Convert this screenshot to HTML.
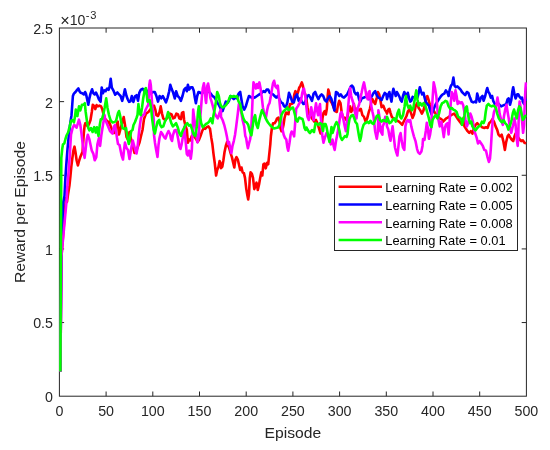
<!DOCTYPE html>
<html><head><meta charset="utf-8"><title>Reward per Episode</title>
<style>
html,body{margin:0;padding:0;background:#fff;}
svg{display:block;}
text{font-family:"Liberation Sans",Arial,sans-serif;fill:#262626;}
.tk{font-size:14.1px;}
.lb{font-size:15.5px;}
.lg{font-size:12.7px;fill:#000;}
</style></head><body>
<svg width="550" height="450" viewBox="0 0 550 450">
<rect x="0" y="0" width="550" height="450" fill="#fff"/>

<g stroke="#262626" stroke-width="1" fill="none">
<rect x="59.4" y="28" width="467" height="368.2"/>
<path d="M106.1 396.2 V391.5 M106.1 28 V32.7"/>
<path d="M152.8 396.2 V391.5 M152.8 28 V32.7"/>
<path d="M199.5 396.2 V391.5 M199.5 28 V32.7"/>
<path d="M246.2 396.2 V391.5 M246.2 28 V32.7"/>
<path d="M292.9 396.2 V391.5 M292.9 28 V32.7"/>
<path d="M339.6 396.2 V391.5 M339.6 28 V32.7"/>
<path d="M386.3 396.2 V391.5 M386.3 28 V32.7"/>
<path d="M433 396.2 V391.5 M433 28 V32.7"/>
<path d="M479.7 396.2 V391.5 M479.7 28 V32.7"/>
<path d="M59.4 322.56 H64.1 M526.4 322.56 H521.7"/>
<path d="M59.4 248.92 H64.1 M526.4 248.92 H521.7"/>
<path d="M59.4 175.28 H64.1 M526.4 175.28 H521.7"/>
<path d="M59.4 101.64 H64.1 M526.4 101.64 H521.7"/>
</g>
<g fill="none" stroke-width="2.6" stroke-linejoin="round" stroke-linecap="butt" clip-path="url(#cp)">
<clipPath id="cp"><rect x="58.4" y="27" width="469" height="370.2"/></clipPath>
<path d="M60.4 371.5 L61.4 257.0 L66.0 198.0 L67.0 201.9 L68.1 193.9 L69.4 185.9 L70.4 176.3 L71.3 166.7 L72.3 158.7 L73.4 150.7 L74.5 146.7 L75.5 152.3 L76.6 160.3 L77.9 165.4 L79.0 161.1 L80.3 157.1 L81.6 153.9 L82.5 152.0 L83.2 142.4 L83.8 133.6 L84.6 125.6 L85.4 123.2 L86.5 124.8 L87.8 126.4 L89.4 123.2 L90.5 120.0 L91.8 112.0 L92.8 104.8 L94.2 105.9 L95.3 109.1 L96.6 105.1 L97.9 106.4 L99.5 105.6 L101.1 106.4 L102.4 109.6 L103.5 114.4 L104.6 118.4 L106.2 120.0 L108.6 123.2 L109.0 121.5 L111.5 128.5 L114.0 133.0 L116.0 127.0 L117.7 121.5 L119.0 134.5 L121.0 127.0 L123.7 117.0 L125.0 125.0 L126.5 137.0 L127.8 139.5 L129.5 132.0 L131.5 141.0 L133.0 147.0 L134.5 153.0 L137.0 149.0 L139.5 142.5 L141.0 136.0 L142.5 130.0 L144.0 119.0 L146.0 113.6 L148.4 112.0 L150.8 108.8 L154.0 105.6 L155.3 109.6 L156.4 115.2 L158.0 116.0 L159.6 112.0 L160.7 106.4 L162.0 113.6 L163.3 118.4 L165.2 120.0 L166.8 118.4 L168.4 116.8 L170.0 113.6 L171.6 114.4 L173.2 118.4 L174.8 117.6 L176.4 113.6 L178.0 114.4 L179.3 118.4 L180.9 119.2 L182.0 112.8 L183.3 112.0 L184.1 120.0 L185.2 124.8 L186.8 129.6 L187.9 142.7 L189.2 139.5 L190.5 140.3 L191.6 136.3 L194.0 136.0 L196.4 139.5 L197.5 141.9 L198.8 140.3 L200.4 136.3 L202.0 131.5 L203.6 128.0 L205.2 128.8 L206.8 127.2 L208.4 126.4 L210.0 128.8 L211.3 137.9 L212.4 144.3 L213.5 153.9 L214.8 163.5 L216.1 175.5 L217.2 169.9 L218.5 166.7 L219.6 161.1 L220.9 164.3 L221.0 168.3 L222.3 166.7 L223.4 160.3 L224.5 152.3 L225.8 145.9 L227.1 141.9 L228.2 145.9 L229.3 148.3 L230.6 153.1 L231.9 157.1 L233.0 161.9 L234.3 167.5 L235.4 159.5 L236.5 157.1 L237.8 159.5 L238.9 164.3 L240.2 169.9 L241.5 167.5 L242.6 172.3 L243.9 173.1 L245.0 177.9 L246.3 189.1 L247.4 195.5 L248.2 199.5 L249.0 193.9 L249.8 177.9 L250.6 172.3 L251.9 173.9 L253.0 177.9 L254.3 189.1 L255.4 185.9 L256.5 182.7 L257.8 189.9 L259.1 184.3 L260.2 177.9 L261.3 172.3 L262.3 175.5 L263.4 164.3 L264.5 163.5 L265.8 168.3 L267.1 162.7 L268.2 164.3 L269.3 153.9 L270.3 144.3 L270.9 136.0 L271.9 128.0 L273.0 123.2 L274.6 123.2 L276.2 120.8 L277.0 118.5 L278.5 117.5 L279.5 121.5 L280.5 128.5 L281.5 131.2 L282.5 129.5 L283.5 125.0 L284.5 118.0 L286.0 112.5 L287.5 113.8 L288.5 114.2 L289.2 108.0 L290.0 104.0 L290.1 104.0 L291.4 104.0 L293.0 103.2 L294.3 94.4 L295.4 91.2 L296.5 95.2 L297.8 92.8 L299.1 88.0 L300.5 85.6 L301.8 82.4 L302.9 85.6 L304.0 92.8 L305.3 94.4 L306.4 99.2 L307.5 107.2 L308.8 113.6 L310.1 115.2 L312.0 118.4 L314.4 121.6 L316.0 120.0 L317.5 123.5 L319.0 128.5 L320.5 133.5 L321.5 128.0 L322.5 118.0 L323.5 113.0 L324.8 111.0 L325.8 114.5 L326.8 109.0 L327.7 96.0 L328.3 89.6 L329.3 92.8 L330.4 100.8 L332.0 103.2 L333.6 107.2 L335.2 111.2 L336.8 112.0 L337.9 105.6 L339.2 100.8 L340.5 103.2 L341.6 112.0 L343.2 118.4 L344.8 117.6 L346.4 120.0 L347.5 116.8 L348.8 108.8 L350.1 106.4 L351.2 112.0 L352.8 108.8 L353.9 104.0 L355.2 112.0 L356.5 113.6 L357.6 108.0 L359.2 110.4 L360.8 108.8 L362.4 115.2 L364.0 116.8 L365.6 121.6 L367.2 118.4 L368.8 112.0 L369.9 108.8 L371.2 102.4 L372.5 99.2 L373.6 101.6 L375.2 104.0 L376.8 97.6 L377.9 92.0 L379.2 94.4 L380.5 100.8 L381.6 107.2 L383.2 105.6 L384.8 109.6 L386.4 112.0 L387.0 113.6 L388.3 109.6 L389.4 108.8 L390.5 112.8 L391.8 116.8 L393.4 118.4 L395.8 120.0 L399.0 121.6 L400.6 123.2 L402.2 124.8 L403.5 122.0 L405.0 119.0 L406.5 116.0 L408.0 111.2 L409.5 109.2 L411.0 113.0 L412.5 118.0 L414.0 114.5 L415.5 106.4 L417.1 103.2 L418.7 108.0 L420.3 110.4 L421.9 113.6 L423.5 110.4 L425.1 104.0 L426.2 97.6 L427.3 96.0 L428.6 100.0 L429.9 104.8 L431.0 108.0 L433.4 110.4 L436.6 115.2 L439.8 118.4 L441.4 119.2 L443.0 121.6 L444.6 120.0 L446.2 118.4 L447.8 117.6 L451.0 115.2 L454.2 113.6 L457.4 118.4 L459.8 121.6 L462.2 124.8 L463.3 118.4 L464.4 126.4 L466.0 128.8 L467.6 131.2 L469.2 132.8 L470.8 131.2 L472.4 133.6 L474.0 128.0 L475.6 124.8 L477.2 123.2 L478.8 124.8 L480.4 125.6 L482.0 127.2 L484.4 128.0 L486.0 127.2 L487.6 128.0 L489.2 123.2 L490.8 121.6 L492.4 119.2 L494.0 121.6 L495.6 126.4 L497.2 129.9 L498.5 134.7 L500.1 136.3 L501.7 134.7 L503.3 141.1 L504.9 149.9 L506.0 142.7 L507.6 136.3 L508.7 134.7 L510.0 137.1 L511.6 139.5 L513.2 141.1 L514.5 136.3 L515.6 133.6 L517.2 136.0 L519.6 139.5 L521.2 141.1 L522.8 140.3 L524.4 142.7 L526.0 143.5" stroke="#ff0000"/>
<path d="M60.4 371.5 L61.4 250.0 L63.3 202.0 L64.5 196.0 L65.4 177.9 L66.5 161.9 L67.5 149.1 L68.6 137.9 L69.7 128.0 L70.5 121.6 L71.5 115.2 L72.3 104.0 L72.9 96.0 L73.9 93.6 L75.5 92.0 L77.1 89.9 L78.4 88.5 L79.5 91.2 L80.6 92.8 L82.2 93.3 L83.8 94.4 L85.1 92.0 L85.9 93.6 L87.0 98.4 L88.3 104.8 L89.4 98.4 L90.5 93.6 L92.1 89.3 L93.4 93.3 L94.7 94.4 L96.0 92.5 L97.6 96.0 L99.0 99.5 L100.6 101.6 L101.7 87.5 L102.8 93.3 L104.3 90.4 L105.6 91.2 L107.2 88.5 L108.6 89.9 L109.7 86.4 L110.7 78.7 L111.8 87.7 L113.6 90.9 L115.2 94.7 L117.4 92.5 L119.0 94.4 L120.6 96.0 L122.2 100.8 L123.5 96.0 L124.9 89.3 L126.5 96.0 L127.8 99.5 L129.1 101.9 L130.5 101.3 L131.8 96.0 L133.4 101.9 L135.0 96.3 L136.6 95.2 L138.0 100.8 L139.3 92.8 L140.9 89.6 L142.8 88.8 L144.4 91.2 L146.0 89.6 L147.6 92.0 L150.0 91.2 L151.6 92.8 L153.2 92.0 L154.8 92.0 L156.4 96.0 L158.0 101.6 L159.6 96.0 L161.2 98.4 L162.8 96.0 L164.4 99.2 L166.0 102.4 L167.6 97.6 L169.2 91.2 L170.3 84.8 L171.6 88.8 L173.2 92.8 L174.8 98.4 L176.1 91.2 L177.7 96.0 L179.3 97.6 L180.9 100.8 L182.5 96.0 L184.1 89.6 L185.7 88.0 L186.8 91.2 L187.9 84.8 L189.2 89.6 L190.8 87.2 L192.4 87.2 L193.7 90.4 L194.8 97.6 L195.9 103.2 L197.2 96.0 L198.5 92.0 L200.4 92.8 L202.0 93.6 L203.6 91.2 L206.0 92.8 L208.4 91.2 L210.8 93.6 L212.4 96.0 L214.0 96.8 L215.6 99.2 L217.2 102.4 L218.8 104.8 L220.4 108.0 L221.0 109.6 L222.6 111.2 L224.2 106.4 L225.8 101.6 L227.4 103.2 L229.0 100.8 L230.6 96.0 L232.2 97.6 L233.8 99.2 L235.4 97.6 L237.0 98.4 L238.6 93.6 L240.2 92.0 L241.5 100.0 L242.6 106.4 L244.2 109.6 L245.8 106.4 L247.4 100.8 L249.0 96.0 L250.6 96.8 L252.2 98.4 L254.6 97.6 L257.0 96.0 L259.4 94.4 L261.8 92.8 L263.4 91.2 L265.0 92.0 L266.6 89.6 L268.2 89.6 L269.8 92.8 L271.4 93.6 L273.0 94.4 L274.6 96.0 L276.2 97.6 L277.8 96.0 L279.4 99.2 L281.0 102.4 L282.6 103.2 L284.2 106.4 L285.8 107.2 L287.4 102.4 L289.0 92.8 L290.6 96.8 L292.2 101.6 L293.8 102.4 L295.4 96.8 L297.0 94.4 L298.6 100.8 L300.2 98.4 L301.8 101.6 L303.4 104.0 L304.0 104.0 L305.6 100.8 L307.2 96.0 L308.8 95.2 L310.4 97.6 L312.0 100.8 L313.6 93.6 L315.2 92.0 L316.8 96.0 L318.4 99.2 L320.0 96.0 L321.6 94.4 L323.2 96.0 L324.8 100.0 L326.4 101.6 L328.0 98.4 L329.6 96.0 L331.2 98.4 L332.8 104.0 L334.4 110.4 L335.2 99.2 L336.0 92.0 L337.6 92.8 L339.2 96.0 L340.8 94.4 L342.4 96.8 L344.0 97.6 L345.6 96.0 L347.2 94.4 L349.1 90.4 L350.9 86.4 L352.0 85.6 L353.3 87.2 L354.4 92.0 L356.0 94.4 L357.6 92.8 L359.2 100.0 L360.3 101.6 L361.6 98.4 L364.0 97.6 L367.2 96.0 L368.8 99.2 L370.4 98.4 L372.0 96.0 L373.6 92.8 L375.2 91.2 L376.8 95.2 L378.4 97.6 L380.0 98.4 L381.6 100.0 L383.2 96.0 L384.8 92.8 L386.4 94.4 L387.0 99.2 L388.3 94.4 L389.4 92.0 L390.5 97.6 L391.5 101.6 L392.6 92.8 L393.4 88.8 L394.7 92.8 L395.8 96.0 L396.9 92.0 L398.2 94.4 L399.5 96.8 L400.6 100.0 L401.7 101.6 L403.0 96.0 L404.3 92.0 L405.4 94.4 L406.5 97.6 L407.8 92.8 L409.1 98.4 L410.2 101.6 L411.3 100.8 L412.6 96.8 L414.2 97.6 L415.8 96.0 L417.4 97.6 L418.7 92.8 L419.8 87.2 L420.9 91.2 L422.2 94.4 L423.5 92.8 L424.6 97.6 L425.7 101.6 L427.3 104.0 L428.9 105.6 L430.2 110.4 L431.5 114.4 L433.1 110.4 L434.7 106.4 L436.3 103.2 L437.9 100.8 L439.5 98.4 L441.1 96.0 L442.7 94.4 L444.3 93.6 L445.9 90.4 L447.5 92.8 L448.6 96.0 L449.7 89.6 L451.0 85.6 L452.3 84.0 L453.4 77.6 L454.5 85.6 L455.8 87.2 L457.4 86.4 L459.0 88.0 L460.6 89.6 L462.0 92.0 L463.6 93.6 L465.2 95.2 L466.8 92.0 L468.4 92.8 L470.0 97.6 L471.6 101.6 L473.2 102.4 L474.8 101.6 L476.1 102.4 L477.2 93.6 L478.3 97.6 L479.6 101.6 L480.9 97.6 L482.5 96.0 L483.6 100.8 L485.2 96.0 L486.3 91.2 L487.3 88.0 L488.4 92.0 L489.5 93.6 L490.8 97.6 L492.1 96.0 L493.2 100.8 L494.8 104.0 L496.4 104.8 L498.0 103.2 L499.6 104.8 L501.2 106.4 L502.8 105.6 L504.4 104.8 L506.0 104.8 L507.6 99.2 L508.7 98.4 L510.0 104.8 L511.3 100.0 L512.4 91.2 L513.2 87.2 L514.5 94.4 L515.6 98.4 L517.2 94.4 L518.3 94.4 L519.6 96.8 L520.9 98.4 L522.0 97.6 L523.1 102.4 L524.1 104.0 L525.2 99.2 L526.0 100.8" stroke="#0000ff"/>
<path d="M60.4 371.5 L61.4 257.0 L67.0 196.0 L67.0 190.7 L68.1 177.9 L69.1 165.1 L69.9 153.9 L70.5 142.7 L71.0 134.7 L72.6 128.0 L74.2 124.8 L76.6 127.7 L79.0 119.7 L80.3 124.8 L81.4 132.8 L82.5 142.4 L83.5 150.4 L84.6 157.9 L85.7 148.8 L86.7 139.2 L87.8 134.7 L89.4 139.5 L91.8 150.7 L93.4 153.9 L94.7 160.3 L96.3 157.1 L97.4 144.3 L99.0 137.9 L100.1 145.9 L101.4 134.7 L103.0 124.8 L104.6 115.2 L105.0 119.0 L107.5 125.0 L110.0 131.0 L112.5 133.5 L114.0 126.5 L115.0 125.0 L116.0 131.0 L117.0 138.0 L118.0 144.0 L119.5 145.0 L120.5 150.0 L121.5 155.0 L123.0 159.5 L124.0 150.0 L125.0 142.5 L126.5 148.0 L128.0 150.0 L129.5 159.0 L130.5 153.0 L131.8 145.0 L132.8 140.5 L134.0 145.0 L135.0 149.0 L136.5 153.5 L137.5 148.0 L138.5 137.0 L139.5 128.0 L140.5 121.0 L141.0 118.0 L142.5 115.0 L144.0 115.0 L145.5 110.0 L147.0 107.0 L148.2 105.0 L148.8 95.0 L149.3 85.0 L150.0 80.5 L150.8 85.0 L151.5 95.0 L152.2 105.0 L153.0 113.0 L153.8 120.0 L154.0 135.0 L155.0 143.0 L156.0 149.0 L157.5 157.0 L158.5 145.0 L159.5 138.0 L161.0 132.0 L162.5 134.0 L164.0 137.0 L165.5 138.5 L167.0 134.0 L168.5 131.0 L170.0 134.0 L171.0 139.0 L172.0 141.0 L173.0 135.0 L174.5 130.5 L176.0 130.0 L177.0 133.0 L178.2 139.0 L179.5 147.0 L180.5 149.0 L181.5 145.0 L182.5 139.0 L183.5 135.0 L184.3 126.5 L185.0 135.0 L186.0 145.0 L186.8 153.9 L187.9 155.5 L189.2 150.7 L190.8 158.7 L191.8 150.7 L192.4 136.0 L193.2 109.6 L194.0 116.8 L195.2 124.8 L196.4 136.0 L197.6 142.4 L198.7 136.0 L199.6 123.2 L200.7 112.0 L201.7 99.2 L202.8 88.0 L203.9 83.2 L204.9 90.0 L205.6 100.0 L206.1 103.0 L206.7 95.0 L207.3 86.0 L208.1 83.5 L209.2 89.6 L210.3 97.6 L211.6 101.6 L212.9 106.4 L214.5 112.8 L216.1 116.0 L217.7 118.4 L219.3 113.6 L220.9 109.6 L221.0 116.8 L222.6 120.0 L224.2 124.8 L225.8 131.2 L227.1 137.6 L228.2 144.0 L229.0 141.9 L230.3 148.3 L231.4 153.1 L232.5 145.9 L233.8 141.1 L235.1 134.4 L236.2 126.4 L237.8 113.6 L238.9 104.0 L240.2 106.4 L241.5 113.6 L242.6 120.0 L244.2 126.4 L245.3 136.0 L246.1 137.9 L247.1 144.3 L247.9 148.3 L249.0 143.5 L250.1 139.5 L251.1 132.8 L251.7 120.0 L252.7 96.0 L253.5 82.4 L254.6 84.8 L255.9 88.5 L257.0 84.0 L258.1 88.0 L259.4 82.4 L260.5 88.0 L261.8 97.6 L262.9 107.2 L264.2 113.6 L265.8 118.4 L267.1 110.4 L268.2 105.6 L269.5 103.2 L270.6 97.6 L271.9 89.6 L273.0 83.2 L274.1 80.8 L275.4 86.4 L276.7 88.0 L277.8 85.6 L278.9 96.0 L280.2 108.8 L281.5 121.6 L282.6 129.6 L283.7 134.7 L285.0 137.9 L286.3 139.5 L287.4 147.5 L288.2 150.7 L289.5 142.7 L290.6 134.7 L291.7 131.5 L293.0 133.1 L294.1 136.3 L294.9 126.4 L296.2 108.8 L297.8 106.4 L299.4 103.2 L301.0 100.8 L302.3 92.8 L303.4 88.8 L304.0 88.8 L305.3 96.0 L306.4 107.2 L307.5 116.8 L308.8 120.0 L310.1 115.2 L311.2 107.2 L312.3 113.6 L313.6 120.0 L314.9 110.4 L316.0 103.2 L317.1 110.4 L318.1 115.2 L319.2 107.2 L320.0 104.0 L320.8 116.8 L321.9 131.2 L322.4 136.3 L323.5 142.7 L324.8 137.9 L326.4 133.1 L328.0 136.0 L329.6 139.5 L330.9 144.3 L332.5 139.5 L333.6 145.9 L334.7 149.9 L336.0 141.1 L337.6 133.1 L338.4 128.0 L339.2 123.2 L340.5 113.6 L341.6 112.0 L343.2 118.4 L344.8 126.4 L345.9 131.2 L346.9 123.2 L348.0 108.8 L349.1 96.0 L350.1 88.0 L351.2 96.0 L352.3 100.0 L353.6 104.0 L355.2 113.6 L356.5 118.4 L357.6 108.8 L359.2 104.0 L360.3 98.4 L361.6 92.8 L362.9 86.4 L364.0 82.4 L365.1 88.0 L366.4 96.0 L367.7 99.2 L368.8 92.0 L369.6 91.2 L370.4 99.2 L371.2 105.6 L372.5 112.0 L373.6 116.8 L375.2 131.5 L376.8 138.7 L377.9 131.5 L378.4 110.4 L379.2 115.2 L380.5 131.2 L382.4 134.7 L382.7 126.4 L384.0 123.2 L385.3 116.8 L386.4 118.4 L387.0 126.4 L388.3 129.6 L389.4 136.0 L390.5 140.8 L391.8 131.2 L392.6 126.4 L393.7 136.0 L395.0 147.5 L396.3 152.3 L397.4 155.5 L398.5 145.9 L399.5 136.3 L400.6 133.1 L401.7 141.1 L403.0 147.5 L404.3 149.9 L404.9 139.2 L405.4 126.4 L406.5 121.6 L407.8 120.0 L409.1 121.6 L410.2 120.0 L411.3 126.4 L412.6 131.5 L413.9 136.3 L415.5 141.1 L417.1 149.1 L418.2 152.3 L419.8 153.9 L421.4 151.5 L422.5 145.9 L423.0 139.0 L424.5 139.8 L425.8 131.0 L426.8 122.8 L427.8 128.0 L429.0 138.8 L430.0 135.0 L431.0 128.5 L431.8 115.0 L432.5 100.0 L433.7 82.4 L435.0 88.0 L436.3 96.0 L437.4 108.8 L438.5 120.0 L439.8 126.4 L441.4 121.6 L442.7 129.6 L443.8 137.1 L444.9 128.0 L446.0 124.5 L447.5 123.2 L448.6 134.4 L449.7 120.0 L450.7 104.0 L451.8 92.0 L452.9 94.4 L454.2 100.8 L455.5 90.4 L456.6 96.0 L457.7 104.0 L459.0 101.6 L460.3 103.2 L461.4 102.4 L462.0 102.4 L463.3 105.6 L464.4 112.0 L465.5 120.0 L466.8 126.4 L468.1 123.2 L469.2 118.4 L470.3 113.6 L471.6 116.8 L472.9 121.6 L474.0 129.9 L475.6 134.7 L476.7 137.9 L478.0 143.5 L479.6 141.1 L481.2 143.5 L482.8 145.9 L484.4 149.9 L486.0 150.7 L487.3 156.3 L488.9 161.9 L490.0 158.7 L490.8 149.1 L491.6 136.0 L492.7 120.0 L494.0 112.0 L495.3 108.8 L496.4 104.0 L497.5 97.6 L498.5 104.0 L499.6 113.6 L501.2 120.0 L502.8 124.8 L503.9 116.8 L505.2 109.6 L506.5 104.8 L507.6 112.0 L508.7 118.4 L510.0 128.0 L511.3 132.8 L512.4 128.0 L513.5 123.2 L514.5 118.4 L515.6 124.8 L516.4 136.3 L517.7 145.9 L518.3 136.0 L518.8 112.0 L519.6 101.6 L520.9 108.8 L522.0 120.0 L523.1 132.8 L524.1 124.8 L524.7 104.0 L525.5 88.0 L526.0 82.4" stroke="#ff00ff"/>
<path d="M60.4 371.5 L61.3 158.0 L62.2 149.1 L63.0 144.3 L64.3 143.5 L65.4 139.2 L66.5 135.5 L68.1 132.5 L69.7 126.4 L71.0 120.8 L72.3 120.0 L73.9 122.4 L75.0 116.8 L75.8 109.6 L77.4 116.0 L79.0 106.4 L80.3 110.4 L81.9 104.8 L83.5 104.8 L84.8 103.2 L85.7 112.0 L87.0 121.6 L88.3 128.0 L89.4 130.4 L91.0 128.0 L92.6 132.0 L94.2 127.2 L95.8 132.5 L96.9 127.2 L98.5 136.0 L99.8 124.8 L100.8 119.2 L102.0 119.2 L103.3 114.4 L104.6 108.0 L106.2 98.4 L107.5 108.0 L109.0 115.0 L110.5 120.0 L112.5 122.5 L114.5 122.0 L116.0 121.0 L117.0 117.0 L118.0 113.0 L119.0 111.0 L120.0 115.0 L121.0 121.0 L122.5 128.0 L124.5 129.0 L126.0 128.0 L127.0 134.0 L128.0 140.0 L128.8 144.0 L130.0 138.0 L131.2 131.0 L132.5 130.0 L133.5 125.0 L135.0 122.0 L136.5 118.0 L137.5 115.0 L138.4 104.0 L139.5 112.8 L140.8 115.2 L142.1 107.2 L143.2 98.4 L144.8 89.6 L145.9 88.0 L146.9 96.0 L147.5 101.6 L149.6 100.0 L151.2 108.8 L152.3 120.0 L153.6 129.6 L154.9 133.6 L156.0 128.0 L157.6 121.6 L159.2 120.0 L160.1 124.8 L161.7 127.2 L163.3 126.4 L164.9 121.6 L166.5 118.4 L168.1 112.0 L169.7 117.6 L171.3 123.2 L172.9 126.4 L174.5 124.8 L176.1 123.2 L177.7 127.2 L179.3 132.8 L180.9 136.0 L182.5 131.2 L184.1 128.0 L185.7 124.8 L187.3 123.2 L188.9 125.6 L190.5 124.8 L192.1 129.6 L193.7 134.4 L195.3 136.0 L196.9 126.4 L198.0 112.0 L198.8 106.4 L200.1 116.8 L201.2 123.2 L202.8 127.2 L204.4 125.6 L206.0 124.0 L207.6 123.2 L209.2 121.6 L210.8 118.4 L212.4 123.2 L213.5 115.2 L214.8 108.8 L216.1 100.8 L217.2 92.0 L218.8 96.0 L219.8 102.4 L220.9 105.6 L222.5 107.5 L224.6 106.4 L226.2 104.8 L227.8 102.4 L230.3 96.0 L232.2 96.8 L233.8 96.0 L235.4 96.8 L237.0 96.0 L238.6 101.6 L240.2 104.0 L241.8 112.8 L243.4 118.4 L245.0 121.6 L246.6 122.4 L248.2 124.8 L249.8 131.2 L251.4 135.2 L252.7 126.4 L253.8 118.4 L255.1 115.2 L256.5 124.8 L257.8 128.0 L259.4 120.0 L261.0 113.6 L262.0 110.0 L263.5 113.0 L265.0 116.5 L266.5 120.0 L268.0 122.5 L270.0 125.0 L272.0 127.0 L274.0 128.5 L276.0 128.0 L278.0 127.5 L279.5 125.0 L280.5 120.0 L281.5 115.0 L283.0 112.0 L284.5 110.5 L286.0 109.0 L287.5 107.5 L288.5 110.0 L290.0 109.5 L291.5 108.0 L293.0 107.5 L294.0 111.0 L295.0 115.0 L296.0 120.0 L297.5 121.5 L298.5 118.5 L299.5 117.5 L301.0 118.5 L302.5 119.0 L303.5 122.5 L304.5 128.0 L305.5 130.0 L306.5 127.5 L307.5 129.5 L309.0 132.0 L310.0 133.0 L312.0 130.0 L314.0 132.0 L315.5 123.0 L317.0 124.0 L318.5 125.0 L320.0 123.0 L321.5 124.0 L323.0 131.0 L324.0 124.0 L325.5 124.0 L326.5 127.0 L328.0 135.0 L329.5 142.0 L330.5 135.0 L331.5 127.0 L332.5 133.0 L333.5 130.0 L335.0 125.0 L336.5 122.0 L338.0 125.0 L339.5 131.0 L340.5 137.0 L342.0 140.0 L343.5 138.0 L345.0 136.0 L346.5 137.0 L347.5 134.0 L348.5 125.0 L349.5 119.0 L351.0 116.0 L353.0 115.0 L354.5 119.0 L355.5 122.0 L357.0 124.0 L358.0 130.0 L359.0 136.0 L360.0 141.0 L361.0 137.0 L362.0 130.0 L363.5 125.0 L365.0 123.0 L365.6 123.2 L367.2 121.6 L368.8 123.2 L370.4 120.8 L372.0 123.2 L373.6 124.0 L375.2 120.0 L376.8 116.0 L378.4 115.2 L380.0 120.0 L381.6 121.6 L383.2 120.0 L384.8 120.8 L386.4 121.6 L387.0 116.8 L388.3 120.0 L389.4 123.2 L391.0 122.4 L392.6 120.0 L394.2 118.4 L395.8 121.6 L397.4 113.6 L399.0 109.6 L400.1 116.8 L401.4 118.4 L403.0 115.2 L404.6 106.4 L405.9 96.0 L407.0 104.0 L408.6 108.0 L410.2 105.6 L411.8 110.4 L413.4 108.0 L414.5 100.8 L415.5 94.4 L416.3 90.4 L417.4 99.2 L418.7 105.6 L420.3 103.2 L421.9 105.6 L423.5 103.2 L425.1 104.8 L426.7 110.4 L427.8 114.4 L428.9 118.4 L430.2 124.8 L431.5 127.2 L432.6 120.0 L434.2 116.8 L435.8 115.2 L437.4 118.4 L439.0 113.6 L440.6 106.4 L442.2 103.2 L443.8 102.4 L445.4 100.8 L447.0 101.6 L448.6 106.4 L450.2 108.8 L451.8 108.0 L453.4 109.6 L455.0 110.4 L456.6 112.0 L458.2 116.8 L459.8 117.6 L461.4 119.2 L462.0 124.8 L463.3 120.0 L464.4 115.2 L465.5 108.0 L466.8 106.4 L467.6 112.0 L468.7 118.4 L470.0 123.2 L471.3 121.6 L472.4 126.4 L474.0 128.8 L475.6 130.4 L477.2 128.0 L478.8 126.4 L480.4 125.6 L482.0 121.6 L483.6 123.2 L484.7 120.0 L485.7 112.0 L486.8 105.6 L488.4 104.0 L490.0 105.6 L491.6 106.4 L493.2 105.6 L494.8 106.4 L495.9 108.0 L497.2 113.6 L498.8 118.4 L500.4 120.8 L502.0 122.4 L503.6 120.0 L505.2 123.2 L506.8 124.8 L508.4 129.6 L510.0 125.6 L511.6 120.0 L512.9 112.8 L514.0 109.6 L515.6 115.2 L516.7 118.4 L518.0 110.4 L519.3 106.4 L520.4 108.0 L521.5 113.6 L522.8 120.0 L524.1 118.4 L525.2 116.0 L526.0 115.2" stroke="#00ff00"/>
</g>
<text class="tk" transform="translate(59.4 416.2) scale(1.012 1)" text-anchor="middle">0</text>
<text class="tk" transform="translate(106.1 416.2) scale(1.012 1)" text-anchor="middle">50</text>
<text class="tk" transform="translate(152.8 416.2) scale(1.012 1)" text-anchor="middle">100</text>
<text class="tk" transform="translate(199.5 416.2) scale(1.012 1)" text-anchor="middle">150</text>
<text class="tk" transform="translate(246.2 416.2) scale(1.012 1)" text-anchor="middle">200</text>
<text class="tk" transform="translate(292.9 416.2) scale(1.012 1)" text-anchor="middle">250</text>
<text class="tk" transform="translate(339.6 416.2) scale(1.012 1)" text-anchor="middle">300</text>
<text class="tk" transform="translate(386.3 416.2) scale(1.012 1)" text-anchor="middle">350</text>
<text class="tk" transform="translate(433.0 416.2) scale(1.012 1)" text-anchor="middle">400</text>
<text class="tk" transform="translate(479.7 416.2) scale(1.012 1)" text-anchor="middle">450</text>
<text class="tk" transform="translate(526.4 416.2) scale(1.012 1)" text-anchor="middle">500</text>
<text class="tk" transform="translate(53.0 401.9) scale(1.012 1)" text-anchor="end">0</text>
<text class="tk" transform="translate(53.0 328.3) scale(1.012 1)" text-anchor="end">0.5</text>
<text class="tk" transform="translate(53.0 254.7) scale(1.012 1)" text-anchor="end">1</text>
<text class="tk" transform="translate(53.0 181.2) scale(1.012 1)" text-anchor="end">1.5</text>
<text class="tk" transform="translate(53.0 107.6) scale(1.012 1)" text-anchor="end">2</text>
<text class="tk" transform="translate(53.0 34.0) scale(1.012 1)" text-anchor="end">2.5</text>
<text class="tk" x="60.2" y="26.0" style="font-size:16.2px">×</text>
<text class="tk" x="69.7" y="24.6">10<tspan dx="0.4" dy="-5.9" font-size="11.1px" letter-spacing="0.8">-3</tspan></text>
<text class="lb" transform="translate(292.9 437.6) scale(1.012 1)" text-anchor="middle">Episode</text>
<text class="lb" transform="translate(24.6 212.1) rotate(-90) scale(1.012 1)" text-anchor="middle">Reward per Episode</text>
<rect x="334.5" y="176.5" width="183" height="74" fill="#fff" stroke="#262626" stroke-width="1" shape-rendering="crispEdges"/>
<path d="M338.6 186.8 H382" stroke="#ff0000" stroke-width="2.6" fill="none"/>
<text class="lg" transform="translate(385.3 192.0) scale(1.012 1)">Learning Rate = 0.002</text>
<path d="M338.6 204.5 H382" stroke="#0000ff" stroke-width="2.6" fill="none"/>
<text class="lg" transform="translate(385.3 209.7) scale(1.012 1)">Learning Rate = 0.005</text>
<path d="M338.6 222.3 H382" stroke="#ff00ff" stroke-width="2.6" fill="none"/>
<text class="lg" transform="translate(385.3 227.5) scale(1.012 1)">Learning Rate = 0.008</text>
<path d="M338.6 240.0 H382" stroke="#00ff00" stroke-width="2.6" fill="none"/>
<text class="lg" transform="translate(385.3 245.2) scale(1.012 1)">Learning Rate = 0.01</text>
</svg></body></html>
